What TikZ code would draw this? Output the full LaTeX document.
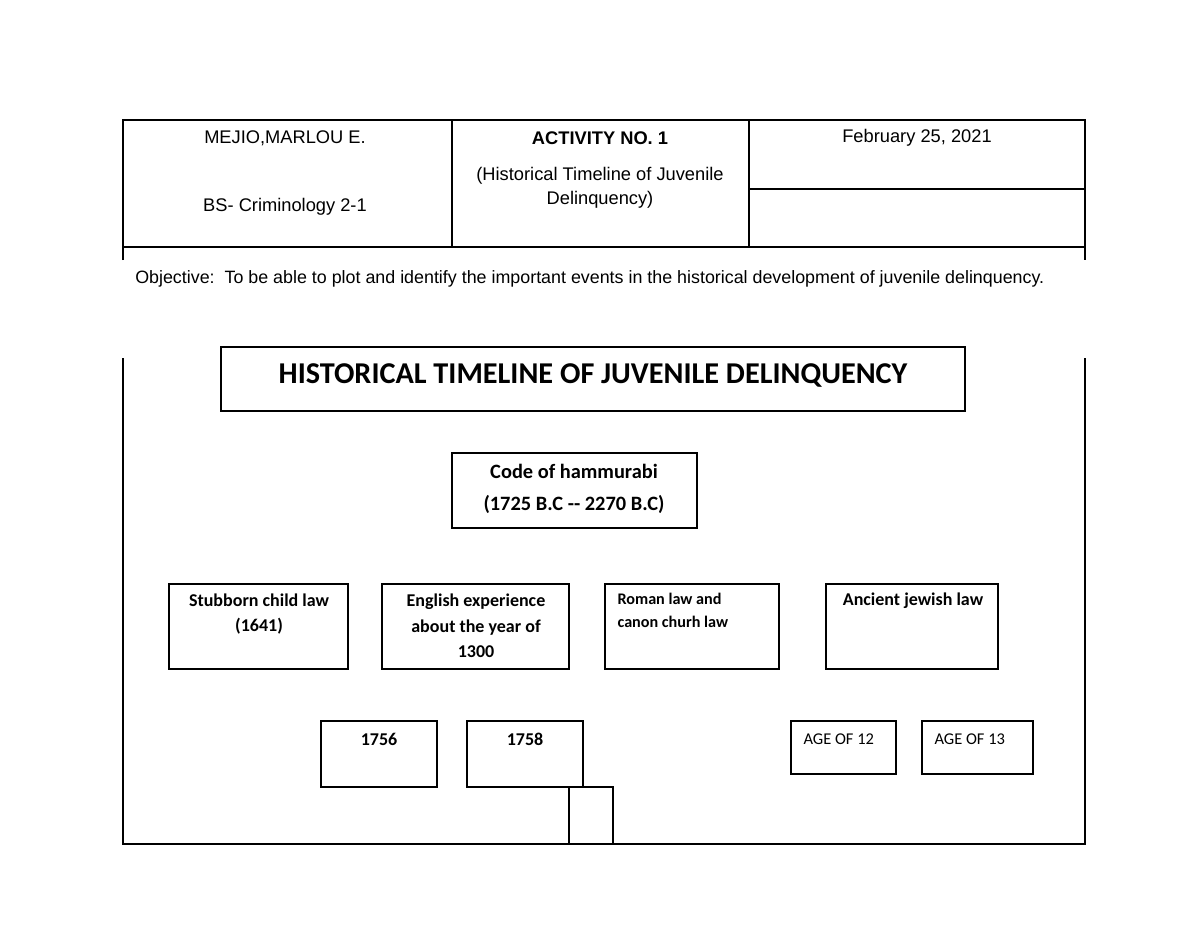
\documentclass[tikz,border=0pt]{standalone}
\usepackage{fontspec}
\setmainfont{Liberation Sans}
\newfontfamily\calfont{Carlito}
\begin{document}
\begin{tikzpicture}[x=0.025cm,y=-0.025cm,line width=0.8pt,
 hd/.style={font=\fontsize{13}{15}\selectfont,anchor=center},
 cb/.style={font=\calfont\bfseries\fontsize{12.8}{18}\selectfont,align=center},
 cs/.style={font=\calfont\bfseries\fontsize{11.5}{16}\selectfont,align=left}]
\useasboundingbox (0,0) rectangle (1200,927);
% header table
\draw (123,260) -- (123,120) -- (1085,120) -- (1085,260);
\draw (123,247) -- (1085,247);
\draw (452,120) -- (452,247) (749,120) -- (749,247) (749,189) -- (1085,189);
\node[hd] (n1) at (285,138) {MEJIO,MARLOU E.};
\node[hd] (n2) at (285,207) {BS- Criminology 2-1};
\node[hd,font=\bfseries\fontsize{13}{15}\selectfont] (a1) at (600,138) {ACTIVITY NO. 1};
\node[hd,align=center,font=\fontsize{13}{17}\selectfont] (a2) at (600,188) {(Historical Timeline of Juvenile\\Delinquency)};
\node[hd] (d) at (917,138) {February 25, 2021};
\node[hd,anchor=west,font=\fontsize{12.7}{15}\selectfont] (obj) at (130,279) {Objective:\ \ To be able to plot and identify the important events in the historical development of juvenile delinquency.};
% frame
\draw (123,358) -- (123,844) -- (1085,844) -- (1085,358);
\draw (221,347) rectangle (965,411);
\node[font=\calfont\bfseries\fontsize{21.5}{23}\selectfont] (t) at (593,375) {HISTORICAL TIMELINE OF JUVENILE DELINQUENCY};
\draw (452,453) rectangle (697,528);
\node[cb,font=\calfont\bfseries\fontsize{14.5}{22.7}\selectfont] (code) at (574,489) {Code of hammurabi\\(1725 B.C -- 2270 B.C)};
\draw (169,584) rectangle (348,669);
\node[cb] (s) at (259,614) {Stubborn child law\\(1641)};
\draw (382,584) rectangle (569,669);
\node[cb] (e) at (476,626) {English experience\\about the year of\\1300};
\draw (605,584) rectangle (779,669);
\node[cs,anchor=north west,inner sep=0] (r) at (617,593) {Roman law and\\canon churh law};
\draw (826,584) rectangle (998,669);
\node[cb] (j) at (913,601) {Ancient jewish law};
\draw (321,721) rectangle (437,787);
\node[cb] (y1) at (379,739) {1756};
\draw (467,721) rectangle (583,787);
\node[cb] (y2) at (525,739) {1758};
\draw (569,787) rectangle (613,844);
\draw (791,721) rectangle (896,774);
\node[font=\calfont\fontsize{11.7}{13}\selectfont,anchor=west,inner sep=0] (g1) at (803,739) {AGE OF 12};
\draw (922,721) rectangle (1033,774);
\node[font=\calfont\fontsize{11.7}{13}\selectfont,anchor=west,inner sep=0] (g2) at (934,739) {AGE OF 13};
\end{tikzpicture}
\end{document}
